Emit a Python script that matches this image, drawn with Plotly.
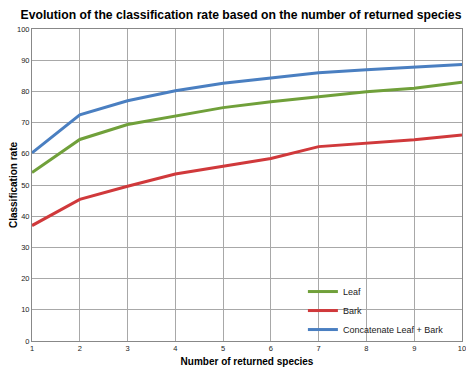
import plotly.graph_objects as go

x_species = [1, 2, 3, 4, 5, 6, 7, 8, 9, 10]
leaf = [54.0, 64.6, 69.4, 72.1, 74.8, 76.7, 78.2, 79.9, 81.0, 82.9]
bark = [37.0, 45.4, 49.6, 53.5, 56.0, 58.5, 62.3, 63.3, 64.5, 66.0]
concat = [60.3, 72.5, 77.0, 80.2, 82.6, 84.2, 86.0, 86.9, 87.7, 88.6]

series = [
    ("Leaf", leaf, "#70a03a"),
    ("Bark", bark, "#d0393b"),
    ("Concatenate Leaf + Bark", concat, "#4a7fc1"),
]

fig = go.Figure()
for name, vals, col in series:
    fig.add_trace(go.Scatter(x=x_species, y=vals, mode="lines", name=name,
                             line=dict(color=col, width=3)))

font_fam = "Liberation Sans, Arial, sans-serif"
# page body has an 8px margin, so the figure is 8px smaller and margins shifted
fig.update_layout(
    width=466, height=361,
    margin=dict(l=24, r=12, t=21, b=28, autoexpand=False),
    paper_bgcolor="white", plot_bgcolor="white",
    title=dict(text="<b>Evolution of the classification rate based on the number of returned species</b>",
               x=0.5, xanchor="center", y=1, yref="container", yanchor="top", pad=dict(t=2),
               font=dict(family=font_fam, size=12.2, color="black")),
    font=dict(family=font_fam, color="#222"),
    showlegend=True,
    legend=dict(x=0.63, y=0.205, xanchor="left", yanchor="top",
                bgcolor="rgba(0,0,0,0)", font=dict(size=9, color="#222"),
                itemwidth=30, tracegroupgap=0),
    xaxis=dict(range=[1, 10], tickmode="array", tickvals=x_species,
               ticktext=[str(v) for v in x_species], automargin=False,
               showgrid=True, gridcolor="#a8a8a8", gridwidth=1,
               showline=True, linecolor="#888", mirror=True,
               ticks="", tickfont=dict(size=7.5), zeroline=False,
               title=dict(text="<b>Number of returned species</b>", font=dict(size=10, color="black"), standoff=5)),
    yaxis=dict(range=[0, 100], tickmode="array", tickvals=list(range(0, 101, 10)),
               automargin=False,
               showgrid=True, gridcolor="#a8a8a8", gridwidth=1,
               showline=True, linecolor="#888", mirror=True,
               ticks="", tickfont=dict(size=7.5), zeroline=False,
               title=dict(text="<b>Classification rate</b>", font=dict(size=10, color="black"), standoff=4)),
)

fig.write_html("out.html")
